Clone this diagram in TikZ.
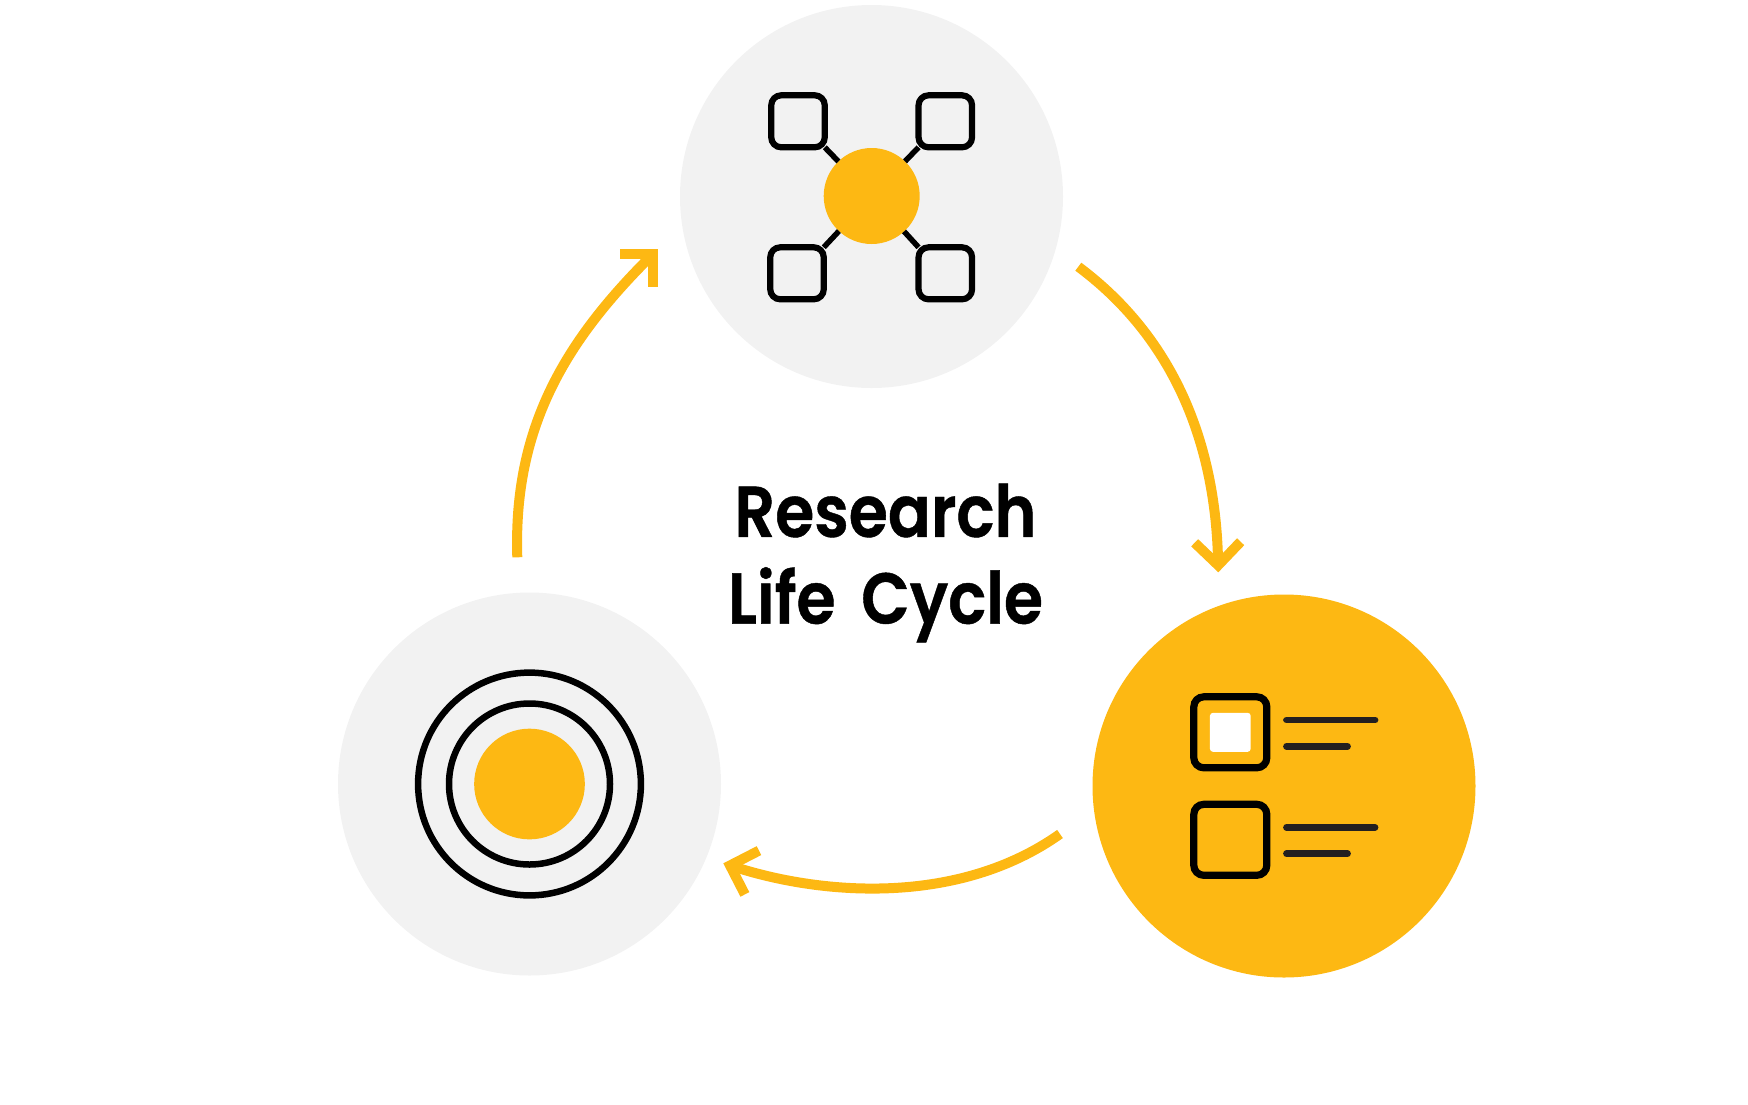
\documentclass[tikz,border=0pt]{standalone}
\usepackage{fontspec}
\setmainfont{Poppins}
\newfontfamily\titlefont[FakeStretch=0.88,WordSpace=1.7,FakeBold=0.6]{Poppins SemiBold}
\usetikzlibrary{arrows.meta}
\definecolor{lifeyellow}{HTML}{FDB813}
\definecolor{lifegray}{HTML}{F2F2F2}
\definecolor{lifedark}{HTML}{231F20}
\tikzset{
	stage/.style={circle,minimum size=383pt,inner sep=0pt,outer sep=0pt},
	ring/.style={circle,draw=black,line width=6.5pt,inner sep=0pt,outer sep=0pt},
	dot/.style={circle,fill=lifeyellow,inner sep=0pt,outer sep=0pt},
	box/.style={rectangle,draw=black,rounded corners=10pt,inner sep=0pt,outer sep=0pt},
	smallbox/.style={box,line width=6.2pt,minimum width=53.5pt,minimum height=52pt},
	bigbox/.style={box,line width=7.2pt,minimum width=73pt,minimum height=71pt},
	spoke/.style={draw=black,line width=5.5pt},
	listline/.style={draw=lifedark,line width=6.8pt,line cap=round},
	flow/.style={draw=lifeyellow,line width=10pt,-{Straight Barb[length=23pt,width=46pt]}}
}
\begin{document}
\begin{tikzpicture}[x=1pt,y=-1pt]
	\useasboundingbox (0,0) rectangle (1748,1104);
	\node [stage,fill=lifegray] (top) at (871.5,196.5) {};
	\node [stage,fill=lifegray] (left) at (529.5,784) {};
	\node [stage,fill=lifeyellow] (right) at (1284,786) {};
	% top icon
	\node [dot,minimum size=96pt] (hub) at (871.7,196) {};
	\node [smallbox] (ntl) at (798,121.3) {};
	\node [smallbox] (ntr) at (945.3,121.3) {};
	\node [smallbox] (nbl) at (797,273.3) {};
	\node [smallbox] (nbr) at (945.3,273.3) {};
	\draw [spoke] (ntl.south east) -- (hub);
	\draw [spoke] (ntr.south west) -- (hub);
	\draw [spoke] (nbl.north east) -- (hub);
	\draw [spoke] (nbr.north west) -- (hub);
	% left icon
	\node [ring,minimum size=222.8pt] (outerring) at (left) {};
	\node [ring,minimum size=161pt] (innerring) at (left) {};
	\node [dot,minimum size=110.7pt] (target) at (left) {};
	% right icon
	\node [bigbox] (boxa) at (1230.3,732.3) {};
	\node [bigbox] (boxb) at (1230.3,839.8) {};
	\node [rectangle,fill=white,rounded corners=3pt,minimum width=40.7pt,minimum height=39pt,inner sep=0pt] (tick) at (boxa) {};
	\foreach \yy/\xx in {720/1375,746.3/1347.5,827.3/1375,853.7/1347.5}
		\draw [listline] (1286.5,\yy) -- (\xx,\yy);
	% arrows
	\coordinate (a1s) at (1078.3,266.7);
	\coordinate (a1e) at (1218.3,572.3);
	\coordinate (a2s) at (1060,834);
	\coordinate (a2e) at (723.3,863.3);
	\coordinate (a3s) at (517.3,557.3);
	\coordinate (a3e) at (657.7,249.3);
	\draw [flow] (a1s) .. controls (1190,350) and (1216,470) .. (a1e);
	\draw [flow] (a2s) .. controls (960,905) and (825,896) .. (a2e);
	\draw [flow] (a3s) .. controls (513,427) and (565.8,341.2) .. (a3e);
	% title
	\node [font=\titlefont\fontsize{72}{86.7}\selectfont,align=center,inner sep=0pt] (title) at (885.5,563) {Research\\Life Cycle};
\end{tikzpicture}
\end{document}
